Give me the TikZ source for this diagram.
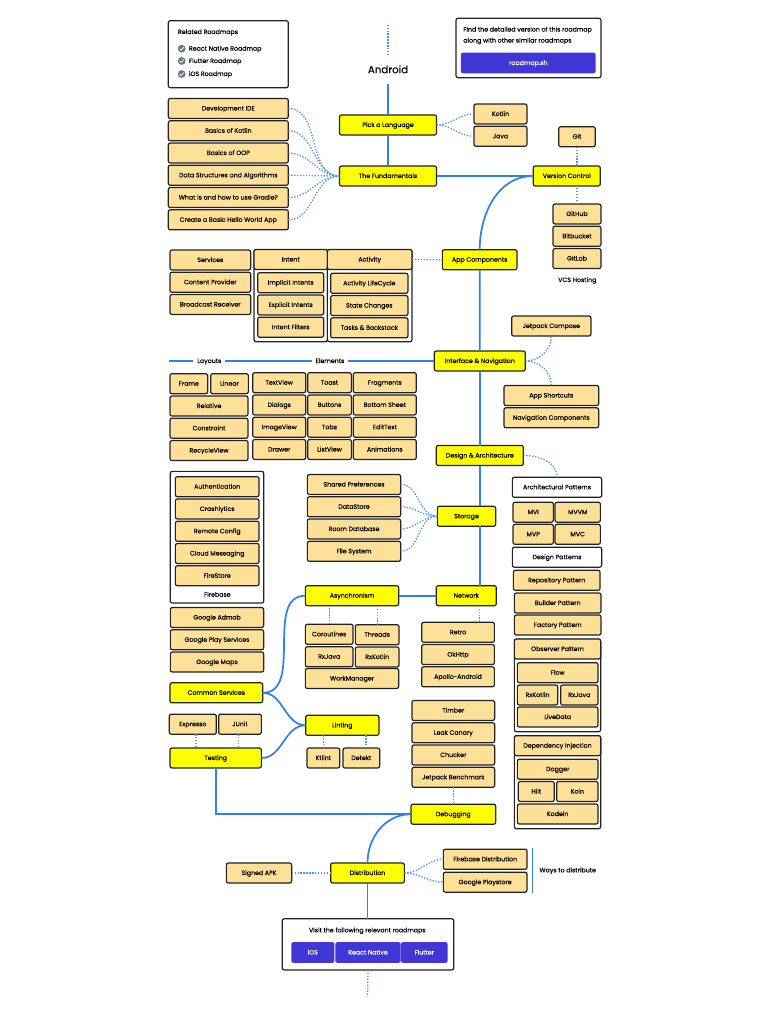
\documentclass[tikz,border=0pt]{standalone}
\usepackage{fontspec}
\setmainfont{Poppins}[FakeBold=0.3]
\usepackage{tikz}
\usetikzlibrary{positioning}
\definecolor{roadblue}{HTML}{2F80EC}
\definecolor{dotblue}{HTML}{4C93EE}
\definecolor{subfill}{HTML}{FFE099}
\definecolor{topicfill}{HTML}{FFFF00}
\definecolor{btnfill}{HTML}{4136D6}
\definecolor{inkline}{HTML}{222222}
\definecolor{tickgray}{HTML}{6C7A85}
\tikzstyle{every node}=[font=\fontsize{4.7}{8.25}\selectfont,text=black,outer sep=0pt,inner sep=0pt]
\tikzstyle{wd}=[minimum width=#1*0.75pt]
\tikzstyle{ht}=[minimum height=#1*0.75pt]
\tikzstyle{oneline}=[text height=4.1pt,text depth=1.1pt]
\tikzstyle{boxed}=[oneline,draw=inkline,line width=0.9pt,rounded corners=1.5pt,minimum height=15pt]
\tikzstyle{topic}=[boxed,fill=topicfill]
\tikzstyle{subtopic}=[boxed,fill=subfill]
\tikzstyle{plainbox}=[boxed,fill=white]
\tikzstyle{panel}=[draw=inkline,line width=0.9pt,rounded corners=1.5pt,fill=white]
\tikzstyle{linkbtn}=[oneline,fill=btnfill,text=white,rounded corners=1.5pt,minimum height=15.5pt]
\tikzstyle{solidlink}=[draw=roadblue,line width=1.3pt]
\tikzstyle{dotlink}=[draw=dotblue,line width=1pt,dash pattern=on 1pt off 1.2pt]
\newcommand{\tickdot}[2]{
  \fill[tickgray] (#1,#2) circle (3.9);
  \draw[white,line width=0.5pt] (#1-2,#2) -- (#1-0.6,#2+1.5) -- (#1+2.2,#2-1.5);
}

\begin{document}
\begin{tikzpicture}[x=0.75pt,y=-0.75pt,node distance=1.7pt]
  \useasboundingbox (0,0) rectangle (768,1024);

  \node[panel,wd=120,ht=67] (related) at (228.3,54.2) {};
  \node[oneline,anchor=west] (relatedtitle) at (178,32) {Related Roadmaps};
  \tickdot{181.7}{48.7}
  \tickdot{181.7}{61}
  \tickdot{181.7}{74}
  \node[oneline,anchor=west] (rnlink) at (189,48.7) {React Native Roadmap};
  \node[oneline,anchor=west] (flutterlink) at (189,61) {Flutter Roadmap};
  \node[oneline,anchor=west] (ioslink) at (189,74) {iOS Roadmap};

  \node[panel,wd=145,ht=59.4] (detail) at (528.5,48) {};
  \node[anchor=west,align=left] (detailtext) at (463.3,35.5) {Find the detailed version of this roadmap\\along with other similar roadmaps};
  \node[linkbtn,wd=134.7] (sitebtn) at (528.3,63) {roadmap.sh};

  \node[font=\fontsize{7.7}{10}\selectfont] (android) at (388,69.3) {Android};
  \coordinate (topend) at (388,24.7);
  \coordinate (topdot) at (388,56);
  \coordinate (topline) at (388,84);

  \node[topic,wd=97] (pick) at (388,125) {Pick a Language};
  \node[topic,wd=97] (fund) at (388,176) {The Fundamentals};
  \node[subtopic,wd=53] (kotlin) at (500.5,114) {Kotlin};
  \node[subtopic,wd=53,below=of kotlin] (java) {Java};

  \node[subtopic,wd=36.6] (git) at (577,136.7) {Git};
  \node[topic,wd=67] (vcs) at (566.8,176) {Version Control};
  \node[subtopic,wd=48] (github) at (577,214) {GitHub};
  \node[subtopic,wd=48,below=of github] (bitbucket) {Bitbucket};
  \node[subtopic,wd=48,below=of bitbucket] (gitlab) {GitLab};
  \node[oneline] (vcshost) at (577.3,280) {VCS Hosting};

  \node[subtopic,wd=120] (ide) at (228.3,108.5) {Development IDE};
  \node[subtopic,wd=120,below=of ide] (basics) {Basics of Kotlin};
  \node[subtopic,wd=120,below=of basics] (oop) {Basics of OOP};
  \node[subtopic,wd=120,below=of oop] (dsa) {Data Structures and Algorithms};
  \node[subtopic,wd=120,below=of dsa] (gradle) {What is and how to use Gradle?};
  \node[subtopic,wd=120,below=of gradle] (hello) {Create a Basic Hello World App};

  \node[subtopic,wd=80.7] (services) at (210.3,260) {Services};
  \node[subtopic,wd=80.7,below=of services] (provider) {Content Provider};
  \node[subtopic,wd=80.7,below=of provider] (receiver) {Broadcast Receiver};

  \node[panel,wd=73.3,ht=92] (intentpanel) at (290.7,295.7) {};
  \node[panel,wd=84.7,ht=92] (activitypanel) at (369.7,295.7) {};
  \node[subtopic,wd=73.3] (intent) at (290.7,259.5) {Intent};
  \node[subtopic,wd=84.7] (activity) at (369.7,259.5) {Activity};
  \node[subtopic,wd=66] (implicit) at (290.7,282.7) {Implicit Intents};
  \node[subtopic,wd=66,below=of implicit] (explicit) {Explicit Intents};
  \node[subtopic,wd=66,below=of explicit] (filters) {Intent Filters};
  \node[subtopic,wd=77.3] (lifecycle) at (369.3,283.3) {Activity LifeCycle};
  \node[subtopic,wd=77.3,below=of lifecycle] (state) {State Changes};
  \node[subtopic,wd=77.3,below=of state] (tasks) {Tasks \& Backstack};
  \node[topic,wd=74.7] (appcomp) at (479.7,259.7) {App Components};

  \node[subtopic,wd=79.3] (compose) at (551.3,326) {Jetpack Compose};
  \node[topic,wd=91] (iface) at (479.8,361) {Interface \& Navigation};
  \node[subtopic,wd=94.7] (shortcuts) at (551.3,395.5) {App Shortcuts};
  \node[subtopic,wd=94.7,below=of shortcuts] (navcomp) {Navigation Components};

  \node[oneline,inner xsep=3pt] (layouts) at (209.3,361) {Layouts};
  \node[oneline,inner xsep=3pt] (elements) at (330,361) {Elements};
  \coordinate (layoutstart) at (169,361);

  \node[subtopic,wd=37.7] (frame) at (188.8,383.7) {Frame};
  \node[subtopic,wd=37.7] (linear) at (229.5,383.7) {Linear};
  \node[subtopic,wd=78] (relative) at (209,406) {Relative};
  \node[subtopic,wd=78,below=of relative] (constraint) {Constraint};
  \node[subtopic,wd=78,below=of constraint] (recycle) {RecycleView};

  \node[subtopic,wd=53] (textview) at (279.2,382.7) {TextView};
  \node[subtopic,wd=53,below=of textview] (dialogs) {Dialogs};
  \node[subtopic,wd=53,below=of dialogs] (imageview) {ImageView};
  \node[subtopic,wd=53,below=of imageview] (drawer) {Drawer};
  \node[subtopic,wd=43.7] (toast) at (329.5,382.7) {Toast};
  \node[subtopic,wd=43.7,below=of toast] (buttons) {Buttons};
  \node[subtopic,wd=43.7,below=of buttons] (tabs) {Tabs};
  \node[subtopic,wd=43.7,below=of tabs] (listview) {ListView};
  \node[subtopic,wd=63] (fragments) at (384.8,382.7) {Fragments};
  \node[subtopic,wd=63,below=of fragments] (bottomsheet) {Bottom Sheet};
  \node[subtopic,wd=63,below=of bottomsheet] (edittext) {EditText};
  \node[subtopic,wd=63,below=of edittext] (animations) {Animations};

  \node[topic,wd=87] (design) at (479.8,455.5) {Design \& Architecture};
  \node[plainbox,wd=89.3] (archpat) at (557,487.3) {Architectural Patterns};
  \node[subtopic,wd=40.3] (mvi) at (533.2,512.2) {MVI};
  \node[subtopic,wd=45.3] (mvvm) at (577.7,512.2) {MVVM};
  \node[subtopic,wd=40.3] (mvp) at (533.2,534.3) {MVP};
  \node[subtopic,wd=45.3] (mvc) at (577.7,534.3) {MVC};
  \node[plainbox,wd=89.3] (designpat) at (557,557.2) {Design Patterns};
  \node[subtopic,wd=86.7] (repository) at (556.7,580.3) {Repository Pattern};
  \node[subtopic,wd=86.7] (builder) at (557.7,603) {Builder Pattern};
  \node[subtopic,wd=86.7] (factory) at (557.7,625) {Factory Pattern};

  \node[panel,wd=86.3,ht=92.4] (observerpanel) at (557.5,685.5) {};
  \node[subtopic,wd=86.3] (observer) at (557.5,649) {Observer Pattern};
  \node[subtopic,wd=80.7] (flow) at (557.7,672.7) {Flow};
  \node[subtopic,wd=40.3] (rxkotlinb) at (537.5,695) {RxKotlin};
  \node[subtopic,wd=37.3] (rxjavab) at (579.3,695) {RxJava};
  \node[subtopic,wd=80.7] (livedata) at (557.7,717) {LiveData};

  \node[panel,wd=86.3,ht=93] (dipanel) at (557.5,782.2) {};
  \node[subtopic,wd=86.3] (di) at (557.5,745.7) {Dependency Injection};
  \node[subtopic,wd=80.7] (dagger) at (557.7,769.2) {Dagger};
  \node[subtopic,wd=36] (hilt) at (536.3,791.5) {Hilt};
  \node[subtopic,wd=41.3] (koin) at (577.3,791.5) {Koin};
  \node[subtopic,wd=80.7] (kodein) at (557.7,814) {Kodein};

  \node[panel,wd=93.4,ht=131.7] (firebasepanel) at (217,537.2) {};
  \node[subtopic,wd=83.7] (auth) at (217.2,486.7) {Authentication};
  \node[subtopic,wd=83.7,below=of auth] (crash) {Crashlytics};
  \node[subtopic,wd=83.7,below=of crash] (remote) {Remote Config};
  \node[subtopic,wd=83.7,below=of remote] (cloud) {Cloud Messaging};
  \node[subtopic,wd=83.7,below=of cloud] (firestore) {FireStore};
  \node[oneline] (firebase) at (217.3,594.7) {Firebase};

  \node[subtopic,wd=93.3] (admob) at (217,617.5) {Google Admob};
  \node[subtopic,wd=93.3,below=of admob] (play) {Google Play Services};
  \node[subtopic,wd=93.3,below=of play] (maps) {Google Maps};

  \node[subtopic,wd=93.3] (prefs) at (354,484.5) {Shared Preferences};
  \node[subtopic,wd=93.3,below=of prefs] (datastore) {DataStore};
  \node[subtopic,wd=93.3,below=of datastore] (roomdb) {Room Database};
  \node[subtopic,wd=93.3,below=of roomdb] (filesys) {File System};
  \node[topic,wd=58.3] (storage) at (466.5,516.3) {Storage};

  \node[topic,wd=93.3] (asyncs) at (352,595.7) {Asynchronism};
  \node[topic,wd=60] (network) at (466.3,595.7) {Network};
  \node[subtopic,wd=47.7] (coroutines) at (329.2,634.3) {Coroutines};
  \node[subtopic,wd=43.7] (threads) at (377.2,634.7) {Threads};
  \node[subtopic,wd=47.7] (rxjavaa) at (329.2,656.7) {RxJava};
  \node[subtopic,wd=43.7] (rxkotlina) at (377.2,657) {RxKotlin};
  \node[subtopic,wd=93.3] (workmgr) at (352,678.5) {WorkManager};
  \node[subtopic,wd=72.7] (retro) at (458,632.3) {Retro};
  \node[subtopic,wd=72.7,below=of retro] (okhttp) {OkHttp};
  \node[subtopic,wd=72.7,below=of okhttp] (apollo) {Apollo-Android};

  \node[topic,wd=92.7] (common) at (216.3,692.8) {Common Services};
  \node[subtopic,wd=47] (espresso) at (192.8,724.2) {Expresso};
  \node[subtopic,wd=42.7] (junit) at (240,724.2) {JUnit};
  \node[topic,wd=91.3] (testing) at (215.7,758) {Testing};
  \node[topic,wd=73.3] (linting) at (342.3,725.3) {Linting};
  \node[subtopic,wd=32.7] (ktlint) at (323.3,758) {Ktlint};
  \node[subtopic,wd=36.7] (detekt) at (361.3,758) {Detekt};

  \node[subtopic,wd=82.7] (timber) at (453.3,710.5) {Timber};
  \node[subtopic,wd=82.7,below=of timber] (leak) {Leak Canary};
  \node[subtopic,wd=82.7,below=of leak] (chucker) {Chucker};
  \node[subtopic,wd=82.7,below=of chucker] (benchmark) {Jetpack Benchmark};
  \node[topic,wd=84.7] (debugging) at (453.3,814.2) {Debugging};

  \node[topic,wd=73.7] (distribution) at (367.5,873) {Distribution};
  \node[subtopic,wd=65.3] (signed) at (259,873) {Signed APK};
  \node[subtopic,wd=83.7] (firedist) at (485.2,859.3) {Firebase Distribution};
  \node[subtopic,wd=83.7] (playstore) at (485.2,882.2) {Google Playstore};
  \node[oneline] (ways) at (567.7,870.3) {Ways to distribute};
  \coordinate (waystop) at (532.3,848.3);
  \coordinate (waysbot) at (532.3,892.7);

  \node[panel,wd=171.4,ht=51.3] (visit) at (368,944.3) {};
  \node[oneline] (visittext) at (367.3,930.3) {Visit the following relevant roadmaps};
  \node[linkbtn,wd=43] (iosbtn) at (312.8,952.5) {iOS};
  \node[linkbtn,wd=65.4] (rnbtn) at (368,952.5) {React Native};
  \node[linkbtn,wd=46.7] (flutterbtn) at (424.3,952.5) {Flutter};
  \coordinate (bottomend) at (367.5,996.7);

  \draw[solidlink] (topline) -- (pick.north);
  \draw[solidlink] (pick.south) -- (fund.north);
  \draw[solidlink] (fund.east) -- (vcs.west);
  \draw[solidlink] (vcs.west) to[out=180,in=90] (appcomp.north);
  \draw[solidlink] (appcomp.south) -- (iface.north);
  \draw[solidlink] (iface.south) -- (design.north);
  \draw[solidlink] (design.south) -- (design.south |- storage.north);
  \draw[solidlink] (design.south |- storage.south) -- (design.south |- network.north);
  \draw[solidlink] (network.west) -- (asyncs.east);
  \draw[solidlink] (asyncs.west) to[out=180,in=0] (common.east);
  \draw[solidlink] (common.east) to[out=0,in=180] (linting.west);
  \draw[solidlink] (testing.east) to[out=0,in=180] (linting.west);
  \draw[solidlink] (testing.south) |- (debugging.west);
  \draw[solidlink] (debugging.west) to[out=180,in=90] (distribution.north);
  \draw[solidlink] (distribution.south) -- (distribution.south |- visit.north);
  \draw[solidlink] (layoutstart) -- (layouts.west);
  \draw[solidlink] (layouts.east) -- (elements.west);
  \draw[solidlink] (elements.east) -- (iface.west);
  \draw[draw=roadblue,line width=0.6pt] (waystop) -- (waysbot);

  \draw[dotlink] (topend) -- (topdot);
  \draw[dotlink] (visit.south) -- (bottomend);
  \draw[dotlink] (pick.east) to[out=0,in=180] (kotlin.west);
  \draw[dotlink] (pick.east) to[out=0,in=180] (java.west);
  \draw[dotlink] (ide.east) to[out=0,in=180] (fund.west);
  \draw[dotlink] (basics.east) to[out=0,in=180] (fund.west);
  \draw[dotlink] (oop.east) to[out=0,in=180] (fund.west);
  \draw[dotlink] (dsa.east) to[out=0,in=180] (fund.west);
  \draw[dotlink] (gradle.east) to[out=0,in=180] (fund.west);
  \draw[dotlink] (hello.east) to[out=0,in=180] (fund.west);
  \draw[dotlink] (git.south) -- (git.south |- vcs.north);
  \draw[dotlink] (github.north) -- (github.north |- vcs.south);
  \draw[dotlink] (activity.east) -- (appcomp.west);
  \draw[dotlink] (iface.east) to[out=0,in=-90] (compose.south);
  \draw[dotlink] (iface.east) to[out=0,in=90] (shortcuts.north);
  \draw[dotlink] (design.east) to[out=0,in=90] (archpat.north);
  \draw[dotlink] (prefs.east) to[out=0,in=180] (storage.west);
  \draw[dotlink] (datastore.east) to[out=0,in=180] (storage.west);
  \draw[dotlink] (roomdb.east) to[out=0,in=180] (storage.west);
  \draw[dotlink] (filesys.east) to[out=0,in=180] (storage.west);
  \draw[dotlink] (coroutines.north) -- (coroutines.north |- asyncs.south);
  \draw[dotlink] (threads.north) -- (threads.north |- asyncs.south);
  \draw[dotlink] (design.south |- network.south) -- (design.south |- retro.north);
  \draw[dotlink] (espresso.south -| testing.west) ++(26,0) -- ++(0,14.5);
  \draw[dotlink] (junit.south) ++(-1.7,0) -- ++(0,14.5);
  \draw[dotlink] (ktlint.north |- linting.south) -- (ktlint.north);
  \draw[dotlink] (detekt.north |- linting.south) ++(4.7,0) -- ++(0,14.5);
  \draw[dotlink] (benchmark.south) -- (debugging.north);
  \draw[dotlink] (signed.east) -- (distribution.west);
  \draw[dotlink] (distribution.east) to[out=0,in=180] (firedist.west);
  \draw[dotlink] (distribution.east) to[out=0,in=180] (playstore.west);
\end{tikzpicture}
\end{document}
